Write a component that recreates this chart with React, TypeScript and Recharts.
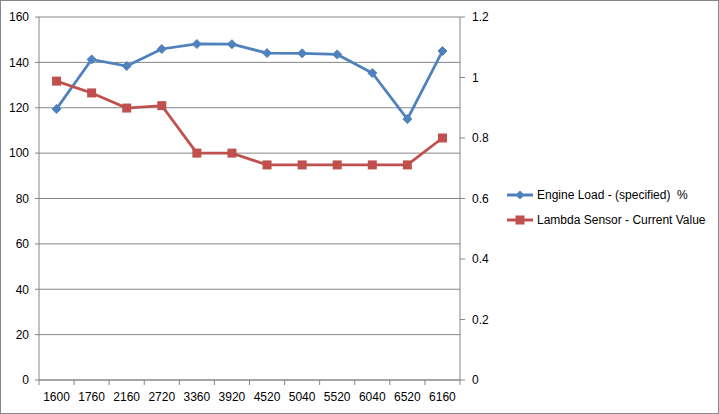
import { LineChart, Line, XAxis, YAxis, CartesianGrid, Legend } from "recharts";

const rpm = ["1600", "1760", "2160", "2720", "3360", "3920", "4520", "5040", "5520", "6040", "6520", "6160"];
const engineLoad = [119.5, 141.3, 138.4, 145.9, 148.1, 148, 144.1, 144, 143.5, 135.3, 115, 145];
const lambda = [0.988, 0.949, 0.899, 0.907, 0.75, 0.75, 0.711, 0.711, 0.711, 0.711, 0.711, 0.8];
const leftTicks = [0, 20, 40, 60, 80, 100, 120, 140, 160];
const rightTicks = [0, 0.2, 0.4, 0.6, 0.8, 1, 1.2];

const data = rpm.map((r, i) => ({ rpm: r, load: engineLoad[i], lambda: lambda[i] }));

const W = 717;
const H = 412;
const PLOT_LEFT = 38;
const PLOT_RIGHT = 459;
const BAND = (PLOT_RIGHT - PLOT_LEFT) / rpm.length;
const BLUE = "#4F81BD";
const RED = "#C0504D";
const AXIS = "#868686";
const FONT = "'Liberation Sans', Arial, sans-serif";

function Diamond(props: any) {
    const { cx, cy } = props;
    if (cx == null || cy == null) return null;
    const r = 4.5;
    return (
        <path
            d={`M${cx},${cy - r}L${cx + r},${cy}L${cx},${cy + r}L${cx - r},${cy}Z`}
            fill={BLUE}
            stroke={BLUE}
        />
    );
}

function Square(props: any) {
    const { cx, cy } = props;
    if (cx == null || cy == null) return null;
    const s = 9;
    return <rect x={cx - s / 2} y={cy - s / 2} width={s} height={s} fill={RED} />;
}

function XTick(props: any) {
    const { x, y, payload, index } = props;
    const axisY = y - 7;
    return (
        <g>
            <line x1={x - BAND / 2} x2={x - BAND / 2} y1={axisY} y2={axisY + 5} stroke={AXIS} />
            {index === rpm.length - 1 && (
                <line x1={x + BAND / 2} x2={x + BAND / 2} y1={axisY} y2={axisY + 5} stroke={AXIS} />
            )}
            <text x={x} y={axisY + 21} textAnchor="middle" fontSize={12} fontFamily={FONT} fill="#000">
                {payload.value}
            </text>
        </g>
    );
}

function LegendBox() {
    const items = [
        { label: "Engine Load - (specified)  %", color: BLUE, shape: "diamond" },
        { label: "Lambda Sensor - Current Value", color: RED, shape: "square" },
    ];
    return (
        <div style={{ fontFamily: FONT, fontSize: 12, color: "#000" }}>
            {items.map((it) => (
                <div key={it.label} style={{ display: "flex", alignItems: "center", height: 25, whiteSpace: "pre" }}>
                    <svg width={28} height={12} style={{ marginRight: 3 }}>
                        <line x1={1} x2={27} y1={6} y2={6} stroke={it.color} strokeWidth={3} />
                        {it.shape === "diamond" ? (
                            <path d="M14,1.5L18.5,6L14,10.5L9.5,6Z" fill={it.color} />
                        ) : (
                            <rect x={9.5} y={1.5} width={9} height={9} fill={it.color} />
                        )}
                    </svg>
                    <span>{it.label}</span>
                </div>
            ))}
        </div>
    );
}

export default function App() {
    return (
        <div
            style={{
                position: "absolute",
                left: 0,
                top: 0,
                width: W,
                height: H,
                border: `1px solid ${AXIS}`,
                background: "#fff",
            }}
        >
            <LineChart width={W} height={H} data={data} margin={{ top: 16, right: 218, bottom: 3, left: 0 }}>
                <CartesianGrid horizontal vertical={false} stroke={AXIS} yAxisId="left" />
                <XAxis
                    dataKey="rpm"
                    height={30}
                    stroke={AXIS}
                    padding={{ left: BAND / 2, right: BAND / 2 }}
                    tickLine={false}
                    tickSize={5}
                    tickMargin={2}
                    interval={0}
                    tick={<XTick />}
                />
                <YAxis
                    yAxisId="left"
                    orientation="left"
                    width={38}
                    domain={[0, 160]}
                    ticks={leftTicks}
                    stroke={AXIS}
                    tickSize={4}
                    tickMargin={6}
                    tick={{ fill: "#000", fontSize: 12, fontFamily: FONT }}
                />
                <YAxis
                    yAxisId="right"
                    orientation="right"
                    width={40}
                    domain={[0, 1.2]}
                    ticks={rightTicks}
                    stroke={AXIS}
                    tickSize={5}
                    tickMargin={7}
                    tickFormatter={(v: number) => String(Math.round(v * 10) / 10)}
                    tick={{ fill: "#000", fontSize: 12, fontFamily: FONT }}
                />
                <Legend
                    layout="horizontal"
                    align="center"
                    verticalAlign="middle"
                    content={<LegendBox />}
                    wrapperStyle={{ left: 505, top: 181, width: "auto" }}
                />
                <Line
                    yAxisId="left"
                    dataKey="load"
                    name="Engine Load - (specified)  %"
                    stroke={BLUE}
                    strokeWidth={2.75}
                    dot={<Diamond />}
                    activeDot={false}
                    isAnimationActive={false}
                />
                <Line
                    yAxisId="right"
                    dataKey="lambda"
                    name="Lambda Sensor - Current Value"
                    stroke={RED}
                    strokeWidth={2.75}
                    dot={<Square />}
                    activeDot={false}
                    isAnimationActive={false}
                />
            </LineChart>
        </div>
    );
}
